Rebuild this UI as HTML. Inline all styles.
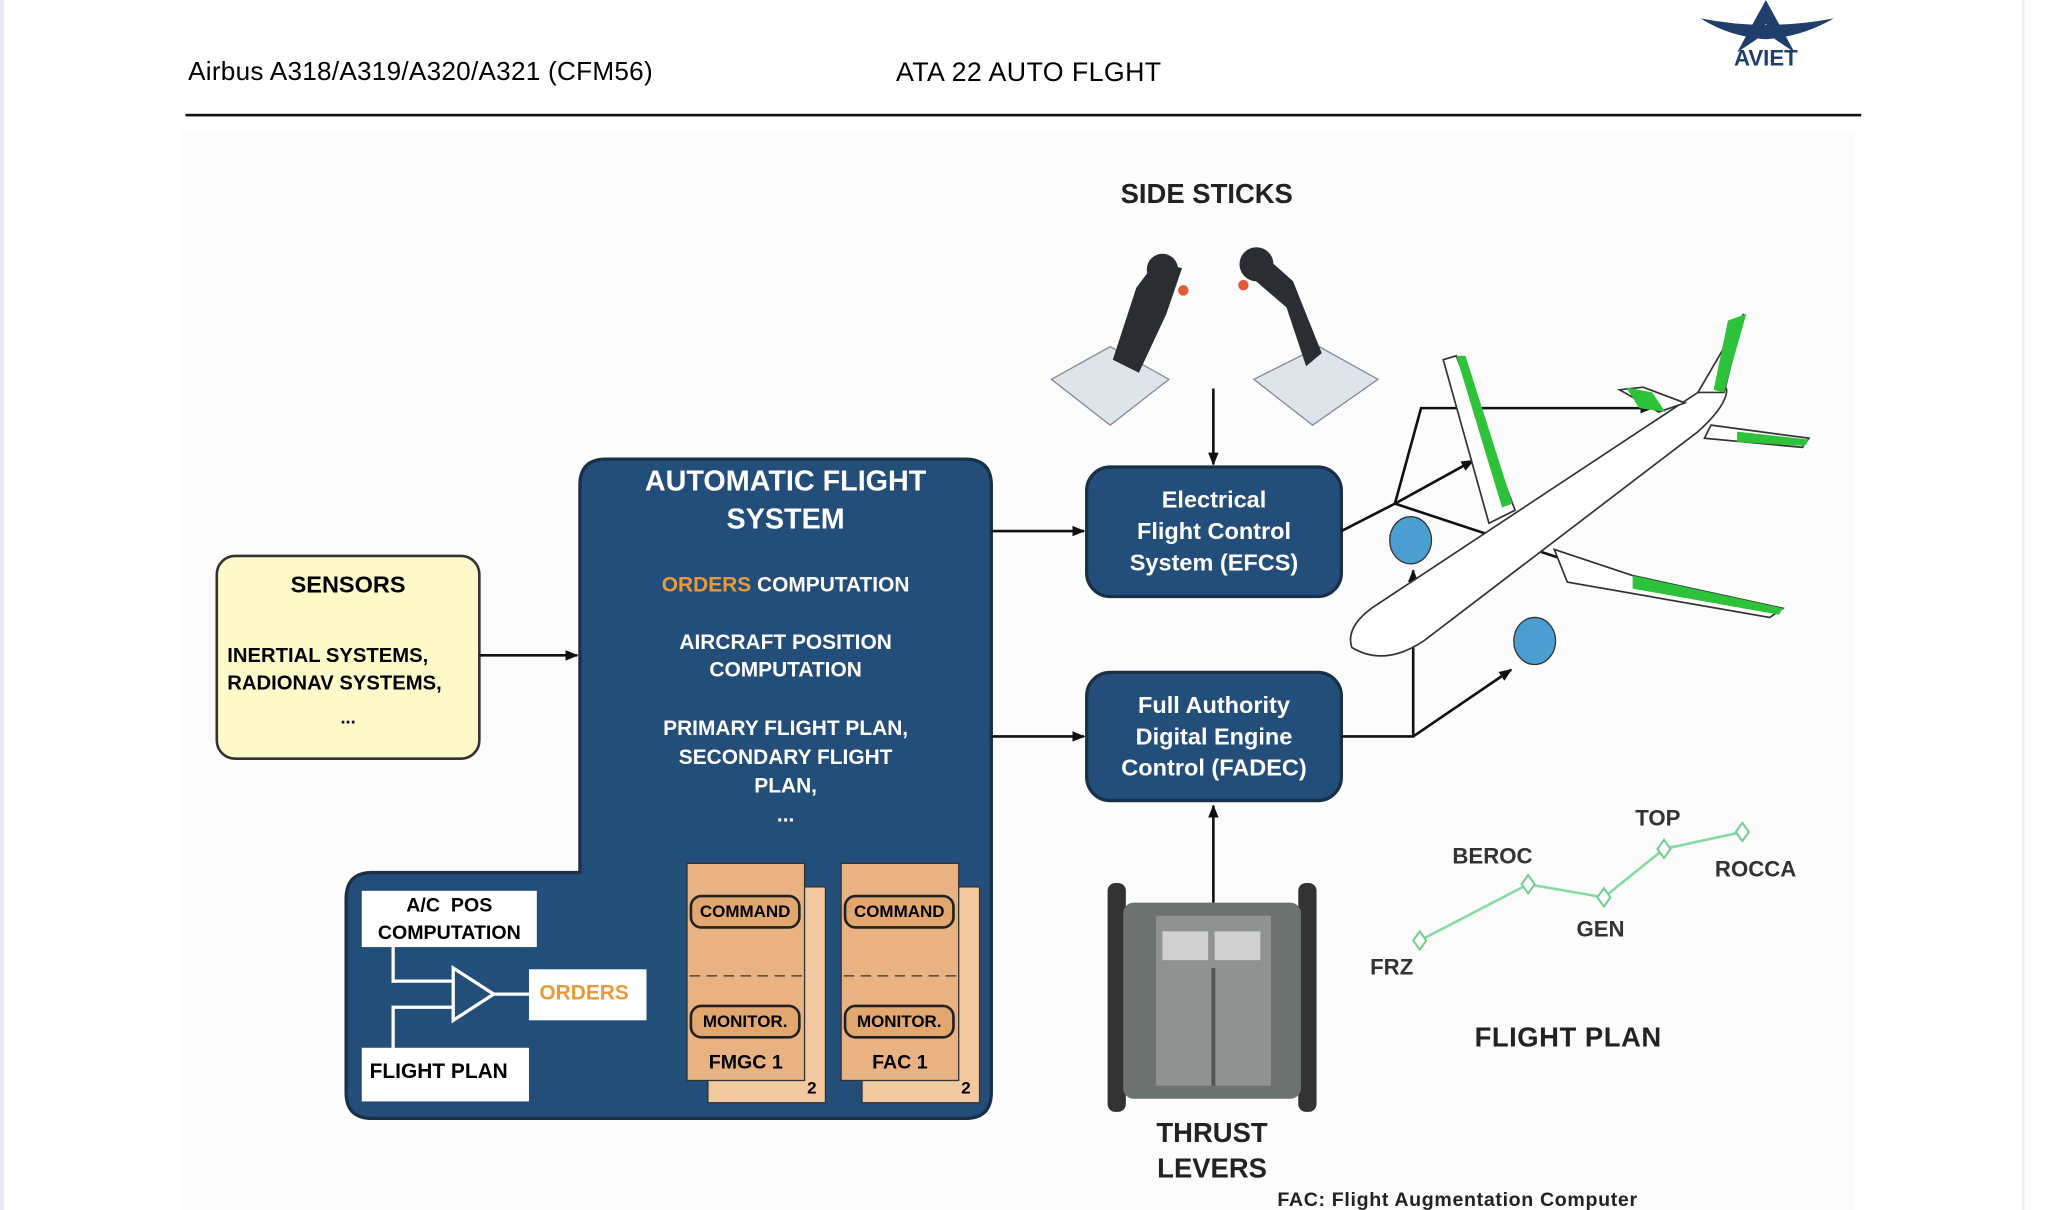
<!DOCTYPE html>
<html><head><meta charset="utf-8"><style>
html,body{margin:0;padding:0;background:#fff;}
#w{width:2048px;height:1210px;overflow:hidden;position:relative;}
#s{position:absolute;left:0;top:0;width:1568px;height:925px;transform:scale(1.3061,1.3081);transform-origin:0 0;font-family:"Liberation Sans",sans-serif;}
.a{position:absolute;}
.t{position:absolute;white-space:nowrap;}
</style></head><body><div id="w"><div id="s">
<div class="a" style="left:138px;top:100px;width:1282px;height:825px;background:#fcfcfc"></div>
<div class="a" style="left:0;top:0;width:3px;height:925px;background:#e6e8f4"></div>
<div class="a" style="left:1548px;top:0;width:2px;height:925px;background:#eef0f6"></div>
<div class="t" style="left:144px;top:44px;font-size:20px;letter-spacing:0.2px">Airbus A318/A319/A320/A321 (CFM56)</div>
<div class="t" style="left:686px;top:44px;font-size:20.5px;letter-spacing:0.3px">ATA 22 AUTO FLGHT</div>
<div class="a" style="left:142px;top:87px;width:1283px;height:2px;background:#111"></div>
<svg class="a" style="left:0;top:0" width="1568" height="925" viewBox="0 0 1568 925">
<defs><marker id="ar" markerWidth="10" markerHeight="10" refX="9" refY="5" orient="auto" markerUnits="userSpaceOnUse"><path d="M0,1 L10,5 L0,9 z" fill="#111"/></marker></defs>
<path d="M1352,0 L1330,40 L1345,30 L1352,18 L1359,30 L1374,40 Z" fill="#1f3f6a"/>
<path d="M1302,14 Q1352,24 1404,14 Q1380,28 1352,30 Q1324,28 1302,14Z" fill="#1f3f6a"/>
<text x="1352" y="50" font-family="Liberation Sans" font-weight="bold" font-size="17" fill="#1f3f6a" text-anchor="middle">AVIET</text>
<path d="M464,351 H739 Q759,351 759,371 V835 Q759,855 739,855 H285 Q265,855 265,835 V687 Q265,667 285,667 H444 V371 Q444,351 464,351Z" fill="#234e7a" stroke="#1a2f48" stroke-width="2.5"/>
<rect x="166" y="425" width="201" height="155" rx="14" fill="#fdf9c9" stroke="#333" stroke-width="2"/>
<rect x="832" y="357" width="195" height="99" rx="18" fill="#234e7a" stroke="#1a2f48" stroke-width="2.5"/>
<rect x="832" y="514" width="195" height="98" rx="18" fill="#234e7a" stroke="#1a2f48" stroke-width="2.5"/>
<g stroke="#111" stroke-width="2" fill="none">
<line x1="367" y1="501" x2="442" y2="501" marker-end="url(#ar)"/>
<line x1="759" y1="406" x2="830" y2="406" marker-end="url(#ar)"/>
<line x1="759" y1="563" x2="830" y2="563" marker-end="url(#ar)"/>
<line x1="929" y1="297" x2="929" y2="355" marker-end="url(#ar)"/>
<line x1="929" y1="690" x2="929" y2="616" marker-end="url(#ar)"/>
<polyline points="1027,406 1068,385 1128,352" marker-end="url(#ar)"/>
<polyline points="1068,385 1088,312 1265,312" marker-end="url(#ar)"/>
<line x1="1068" y1="385" x2="1250" y2="445" marker-end="url(#ar)"/>
<polyline points="1027,563 1082,563 1082,436" marker-end="url(#ar)"/>
<line x1="1082" y1="563" x2="1157" y2="512" marker-end="url(#ar)"/>
</g>
<g>
<path d="M805,290 L850,265 L895,290 L850,325Z" fill="#dde4ea" stroke="#889" />
<path d="M852,275 L870,220 L885,200 L905,205 L893,240 L872,285Z" fill="#2a2e33"/>
<circle cx="890" cy="206" r="12" fill="#2a2e33"/><circle cx="906" cy="222" r="4" fill="#e05a3a"/>
<path d="M960,290 L1010,265 L1055,290 L1005,325Z" fill="#dde4ea" stroke="#889"/>
<path d="M1000,280 L985,235 L950,205 L962,190 L990,215 L1012,270Z" fill="#2a2e33"/>
<circle cx="962" cy="202" r="13" fill="#2a2e33"/><circle cx="952" cy="218" r="4" fill="#e05a3a"/>
</g>
<g stroke="#333" stroke-width="1.3" fill="#fff">
<path d="M1035,495 Q1030,480 1050,465 L1300,300 Q1320,290 1322,298 Q1322,310 1300,330 L1090,490 Q1060,510 1035,495Z"/>
<path d="M1105,275 L1115,272 L1160,390 L1140,400Z"/>
<path d="M1190,420 L1250,440 L1365,465 L1355,472 L1200,445Z"/>
<path d="M1300,300 L1335,240 L1320,300Z"/>
<path d="M1270,315 L1240,298 L1258,296 L1290,308Z"/>
<path d="M1310,325 L1385,335 L1380,342 L1305,335Z"/>
</g>
<g fill="#2ec23a">
<path d="M1115,272 L1122,272 L1158,385 L1150,388Z"/>
<path d="M1250,440 L1365,465 L1362,470 L1250,450Z"/>
<path d="M1323,245 L1337,240 L1320,300 L1312,298Z"/>
<path d="M1245,296 L1265,300 L1275,315 L1255,312Z"/>
<path d="M1330,330 L1385,336 L1382,341 L1330,338Z"/>
</g>
<ellipse cx="1080" cy="413" rx="16" ry="18" fill="#4a9fd0" stroke="#333"/>
<ellipse cx="1175" cy="490" rx="16" ry="18" fill="#4a9fd0" stroke="#333"/>
<rect x="848" y="675" width="14" height="175" rx="6" fill="#333"/>
<rect x="994" y="675" width="14" height="175" rx="6" fill="#333"/>
<rect x="860" y="690" width="136" height="150" rx="8" fill="#6b7270"/>
<rect x="885" y="700" width="88" height="130" fill="#8e9391"/>
<rect x="890" y="712" width="35" height="22" fill="#d0d0d0"/><rect x="930" y="712" width="35" height="22" fill="#d0d0d0"/>
<line x1="929" y1="740" x2="929" y2="830" stroke="#555" stroke-width="3"/>
<polyline points="1087,719 1170,676 1228,686 1274,649 1334,636" fill="none" stroke="#86dba0" stroke-width="2"/>
<g fill="#fff" stroke="#6ccf8a" stroke-width="1.5">
<path d="M1087,712 l5,7 l-5,7 l-5,-7z"/><path d="M1170,669 l5,7 l-5,7 l-5,-7z"/><path d="M1228,679 l5,7 l-5,7 l-5,-7z"/><path d="M1274,642 l5,7 l-5,7 l-5,-7z"/><path d="M1334,629 l5,7 l-5,7 l-5,-7z"/>
</g>
<rect x="542" y="678" width="90" height="165" fill="#f1c8a0" stroke="#333"/>
<rect x="526" y="660" width="90" height="166" fill="#e9b283" stroke="#333"/>
<rect x="660" y="678" width="90" height="165" fill="#f1c8a0" stroke="#333"/>
<rect x="644" y="660" width="90" height="166" fill="#e9b283" stroke="#333"/>
<g fill="#e2a66f" stroke="#222" stroke-width="2">
<rect x="529" y="685" width="83" height="24" rx="8"/><rect x="529" y="769" width="83" height="24" rx="8"/>
<rect x="647" y="685" width="83" height="24" rx="8"/><rect x="647" y="769" width="83" height="24" rx="8"/>
</g>
<line x1="528" y1="746" x2="614" y2="746" stroke="#333" stroke-dasharray="8,5"/>
<line x1="646" y1="746" x2="732" y2="746" stroke="#333" stroke-dasharray="8,5"/>
<rect x="277" y="681" width="134" height="43" fill="#fff"/>
<rect x="277" y="801" width="128" height="41" fill="#fff"/>
<rect x="405" y="741" width="90" height="39" fill="#fff"/>
<g stroke="#fff" stroke-width="2.5" fill="none">
<polyline points="301,724 301,750 347,750"/><polyline points="301,801 301,770 347,770"/>
<path d="M347,740 L378,760 L347,780Z"/><line x1="378" y1="760" x2="405" y2="760"/>
</g>
</svg>
<div class="t" style="left:858px;top:137px;font-size:21px;font-weight:bold;color:#222">SIDE STICKS</div>
<div class="t" style="left:166px;top:437px;width:201px;text-align:center;font-size:18px;font-weight:bold">SENSORS</div>
<div class="t" style="left:174px;top:491px;font-size:15.5px;font-weight:bold;line-height:21px">INERTIAL SYSTEMS,<br>RADIONAV SYSTEMS,</div>
<div class="t" style="left:166px;top:540px;width:201px;text-align:center;font-size:14px;font-weight:bold">...</div>
<div class="t" style="left:444px;top:353px;width:315px;text-align:center;font-size:22px;font-weight:bold;color:#fff;line-height:29px">AUTOMATIC FLIGHT<br>SYSTEM</div>
<div class="t" style="left:444px;top:439px;width:315px;text-align:center;font-size:16px;font-weight:bold;color:#fff"><span style="color:#e89a3a">ORDERS</span> COMPUTATION</div>
<div class="t" style="left:444px;top:481px;width:315px;text-align:center;font-size:16px;font-weight:bold;color:#fff;line-height:21px">AIRCRAFT POSITION<br>COMPUTATION</div>
<div class="t" style="left:444px;top:547px;width:315px;text-align:center;font-size:16px;font-weight:bold;color:#fff;line-height:22px">PRIMARY FLIGHT PLAN,<br>SECONDARY FLIGHT<br>PLAN,<br>...</div>
<div class="t" style="left:832px;top:370px;width:195px;text-align:center;font-size:18px;font-weight:bold;color:#fff;line-height:24px">Electrical<br>Flight Control<br>System (EFCS)</div>
<div class="t" style="left:832px;top:527px;width:195px;text-align:center;font-size:18px;font-weight:bold;color:#fff;line-height:24px">Full Authority<br>Digital Engine<br>Control (FADEC)</div>
<div class="t" style="left:277px;top:682px;width:134px;text-align:center;font-size:15px;font-weight:bold;line-height:21px">A/C&nbsp; POS<br>COMPUTATION</div>
<div class="t" style="left:283px;top:811px;font-size:16px;font-weight:bold">FLIGHT PLAN</div>
<div class="t" style="left:413px;top:751px;font-size:16px;font-weight:bold;color:#e89a3a">ORDERS</div>
<div class="t" style="left:529px;top:689px;width:83px;text-align:center;font-size:13px;font-weight:bold">COMMAND</div>
<div class="t" style="left:647px;top:689px;width:83px;text-align:center;font-size:13px;font-weight:bold">COMMAND</div>
<div class="t" style="left:529px;top:773px;width:83px;text-align:center;font-size:13px;font-weight:bold">MONITOR.</div>
<div class="t" style="left:647px;top:773px;width:83px;text-align:center;font-size:13px;font-weight:bold">MONITOR.</div>
<div class="t" style="left:526px;top:804px;width:90px;text-align:center;font-size:15px;font-weight:bold">FMGC 1</div>
<div class="t" style="left:644px;top:804px;width:90px;text-align:center;font-size:15px;font-weight:bold">FAC 1</div>
<div class="t" style="left:618px;top:824px;font-size:13px;font-weight:bold">2</div>
<div class="t" style="left:736px;top:824px;font-size:13px;font-weight:bold">2</div>
<div class="t" style="left:848px;top:853px;width:160px;text-align:center;font-size:21px;font-weight:bold;line-height:27px;color:#222">THRUST<br>LEVERS</div>
<div class="t" style="left:1112px;top:645px;font-size:17px;font-weight:bold;color:#333">BEROC</div>
<div class="t" style="left:1252px;top:616px;font-size:17px;font-weight:bold;color:#333">TOP</div>
<div class="t" style="left:1313px;top:655px;font-size:17px;font-weight:bold;color:#333">ROCCA</div>
<div class="t" style="left:1207px;top:701px;font-size:17px;font-weight:bold;color:#333">GEN</div>
<div class="t" style="left:1049px;top:730px;font-size:17px;font-weight:bold;color:#333">FRZ</div>
<div class="t" style="left:1129px;top:782px;font-size:21px;font-weight:bold;color:#222;letter-spacing:0.4px">FLIGHT PLAN</div>
<div class="t" style="left:978px;top:909px;font-size:15px;font-weight:bold;color:#222;letter-spacing:0.5px">FAC: Flight Augmentation Computer</div>
</div></div></body></html>
